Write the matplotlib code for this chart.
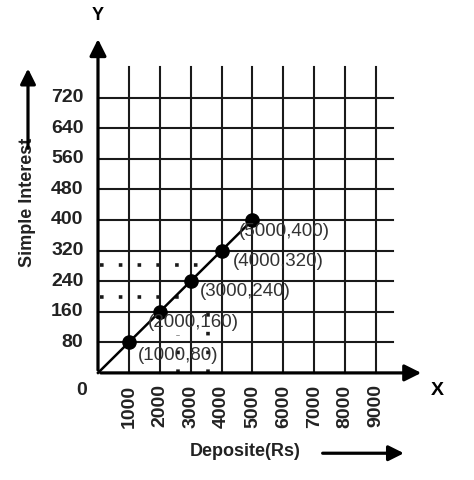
import matplotlib.pyplot as plt

plt.rcParams['font.family'] = ['Liberation Sans', 'DejaVu Sans']

# data
deposit = [1000, 2000, 3000, 4000, 5000]
interest = [80, 160, 240, 320, 400]
point_labels = ['(1000,80)', '(2000,160)', '(3000,240)', '(4000,320)', '(5000,400)']
x_ticks = [1000, 2000, 3000, 4000, 5000, 6000, 7000, 8000, 9000]
y_ticks = [80, 160, 240, 320, 400, 480, 560, 640, 720]
# faint dotted guide lines left over in the original
guide_y = [282, 199]
guide_x_end = [3600, 2700]
guide_x = [3550, 2600]
guide_y_end = [190, 100]

ink = '#1a1a1a'

fig = plt.figure(figsize=(4.74, 4.80), dpi=100)
ax = fig.add_axes([0, 0, 1, 1])
ax.set_xlim(-3171, 12168)
ax.set_ylim(-280, 975)
ax.axis('off')

# grid
for x in x_ticks:
    ax.plot([x, x], [0, 800], color=ink, lw=1.5)
for y in y_ticks:
    ax.plot([0, 9550], [y, y], color=ink, lw=1.5)

# dotted guides
for gy, gx in zip(guide_y, guide_x_end):
    ax.plot([80, gx], [gy, gy], color=ink, lw=2.6, ls=(0, (1, 4.2)))
for gx, gy in zip(guide_x, guide_y_end):
    ax.plot([gx, gx], [0, gy], color=ink, lw=2.6, ls=(0, (1, 4.2)))

# axes with arrows
ax.annotate('', xy=(0, 880), xytext=(0, 0),
            arrowprops=dict(arrowstyle='-|>', color='black', lw=2.3, mutation_scale=25))
ax.annotate('', xy=(10550, 0), xytext=(0, 0),
            arrowprops=dict(arrowstyle='-|>', color='black', lw=2.3, mutation_scale=25))

# line and points
ax.plot([0] + deposit, [0] + interest, color='black', lw=1.8)
ax.plot(deposit, interest, 'o', color='black', ms=9.5)

offsets = [(300, -35), (-400, -28), (300, -28), (350, -30), (-450, -30)]
for x, y, lab, (dx, dy) in zip(deposit, interest, point_labels, offsets):
    ax.text(x + dx, y + dy, lab, fontsize=13.5, color='#333333', ha='left', va='center')

# tick labels
for y in y_ticks:
    ax.text(-470, y, str(y), fontsize=14, fontweight='bold', color='#222222',
            ha='right', va='center')
for x in x_ticks:
    ax.text(x, -30, str(x), fontsize=14, fontweight='bold', color='#222222',
            rotation=90, ha='center', va='top')
ax.text(-520, -45, '0', fontsize=14, fontweight='bold', color='#222222', ha='center', va='center')

ax.text(0, 935, 'Y', fontsize=13, fontweight='bold', ha='center', va='center')
ax.text(10990, -47, 'X', fontsize=14, fontweight='bold', ha='center', va='center')

# axis titles with arrows
ax.text(4750, -206, 'Deposite(Rs)', fontsize=13, fontweight='bold', color='#222222',
        ha='center', va='center')
ax.annotate('', xy=(9990, -210), xytext=(7180, -210),
            arrowprops=dict(arrowstyle='-|>', color='black', lw=2.3, mutation_scale=23))
ax.text(-2265, 446, 'Simple Interest', fontsize=13, fontweight='bold', color='#222222',
        rotation=90, ha='center', va='center')
ax.annotate('', xy=(-2265, 803), xytext=(-2265, 580),
            arrowprops=dict(arrowstyle='-|>', color='black', lw=2.3, mutation_scale=23))

fig.savefig('out.png', dpi=100)
